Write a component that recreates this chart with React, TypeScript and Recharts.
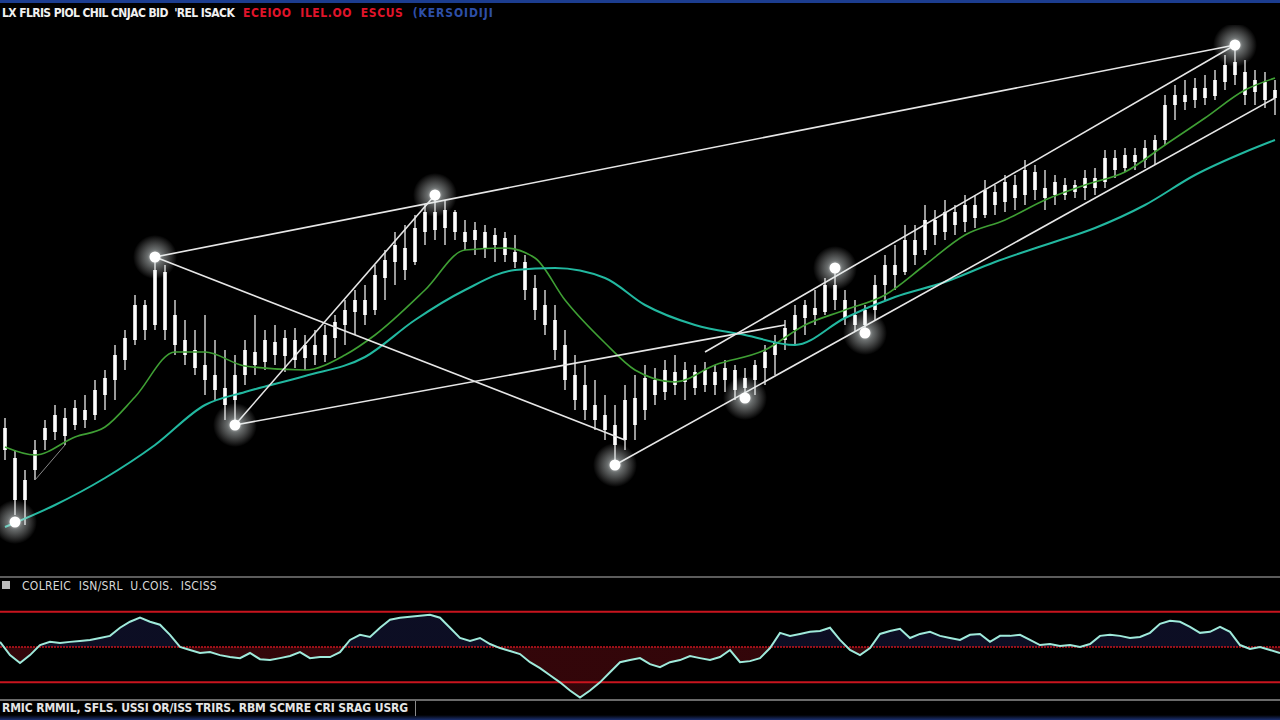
import React from "react";
import {
  ComposedChart,
  Bar,
  Line,
  Area,
  XAxis,
  YAxis,
  ReferenceLine,
  ReferenceDot,
} from "recharts";

// price candles, one every 10px
const highs = [
  157, 125, 105, 135, 155, 170, 167, 175, 180, 195,
  205, 230, 245, 280, 275, 318, 310, 275, 255, 245,
  260, 235, 225, 220, 235, 260, 245, 250, 245, 247,
  240, 245, 250, 260, 275, 285, 290, 310, 325, 343,
  350, 360, 370, 380, 375, 365, 355, 353, 350, 347,
  343, 340, 320, 300, 285, 270, 245, 220, 210, 195,
  180, 170, 190, 200, 210, 207, 215, 220, 213, 210,
  213, 210, 215, 210, 207, 215, 230, 240, 255, 270,
  275, 285, 297, 310, 285, 275, 270, 300, 320, 330,
  350, 350, 370, 365, 375, 370, 380, 380, 395, 390,
  400, 400, 415, 410, 405, 400, 397, 395, 405, 407,
  425, 425, 427, 427, 435, 440, 480, 490, 495, 497,
  500, 505, 520, 530, 515, 505, 503, 495,
];
const lows = [
  115, 60, 50, 95, 125, 135, 130, 145, 147, 155,
  165, 175, 205, 230, 235, 245, 235, 220, 210, 200,
  180, 175, 155, 150, 190, 200, 205, 210, 203, 207,
  205, 210, 213, 217, 230, 240, 250, 260, 275, 290,
  295, 310, 330, 335, 330, 335, 325, 320, 317, 313,
  313, 307, 275, 255, 240, 215, 185, 165, 155, 145,
  135, 110, 125, 135, 155, 170, 175, 180, 175, 180,
  183, 180, 183, 175, 175, 180, 190, 200, 225, 230,
  240, 250, 260, 265, 250, 243, 240, 255, 275, 285,
  300, 310, 320, 330, 335, 340, 343, 347, 357, 360,
  363, 365, 370, 375, 365, 370, 375, 377, 375, 380,
  387, 397, 403, 405, 407, 410, 430, 455, 465, 467,
  470, 475, 485, 490, 470, 470, 467, 460,
];
const opens = [
  125, 117, 75, 105, 135, 143, 157, 150, 165, 160,
  180, 195, 215, 235, 270, 250, 303, 260, 235, 225,
  210, 200, 187, 175, 200, 223, 213, 233, 219, 235,
  217, 230, 220, 237, 250, 263, 275, 265, 297, 313,
  327, 313, 343, 363, 347, 363, 343, 335, 343, 330,
  337, 323, 313, 287, 270, 255, 230, 200, 190, 170,
  160, 150, 135, 177, 165, 195, 183, 203, 193, 203,
  190, 203, 195, 205, 187, 195, 207, 220, 235, 245,
  257, 267, 263, 290, 275, 260, 250, 265, 290, 310,
  303, 335, 325, 355, 343, 363, 353, 370, 360, 383,
  373, 390, 380, 403, 387, 380, 390, 383, 387, 397,
  393, 417, 407, 420, 415, 425, 435, 470, 480, 475,
  487, 479, 493, 513, 503, 483, 493, 477,
];
const closes = [
  147, 75, 95, 125, 147, 160, 139, 167, 155, 185,
  197, 220, 237, 270, 245, 305, 245, 230, 220, 207,
  195, 185, 170, 200, 225, 210, 235, 220, 237, 215,
  230, 220, 240, 253, 265, 275, 260, 300, 315, 330,
  305, 347, 363, 345, 365, 343, 333, 345, 327, 340,
  320, 313, 285, 265, 250, 225, 195, 175, 165, 155,
  145, 130, 175, 150, 197, 180, 205, 190, 205, 187,
  205, 190, 207, 185, 197, 210, 223, 233, 247, 260,
  270, 260, 290, 275, 257, 250, 265, 290, 310, 300,
  335, 320, 355, 340, 363, 350, 370, 357, 385, 370,
  393, 377, 405, 385, 377, 393, 380, 390, 397, 387,
  417, 405, 420, 413, 427, 435, 470, 480, 473, 487,
  477, 495, 510, 500, 480, 495, 475, 485,
];

// moving averages, [candle index, value]
const fastMa = [
  [0, 128], [3, 120], [7, 138], [10, 148], [13, 178], [17, 223], [20, 223],
  [24, 209], [30, 205], [34, 220], [37, 240], [42, 285], [46, 325], [50, 327],
  [53, 317], [56, 275], [60, 232], [63, 205], [67, 193], [71, 210], [76, 225],
  [80, 250], [84, 265], [88, 280], [92, 310], [96, 340], [100, 355], [104, 375],
  [108, 390], [112, 403], [116, 430], [120, 457], [124, 485], [127, 497],
];
const slowMa = [
  [0, 48], [5, 70], [10, 97], [15, 130], [20, 170], [24, 183], [30, 199],
  [36, 218], [41, 255], [46, 285], [51, 305], [55, 307], [60, 297], [64, 270],
  [69, 250], [74, 240], [79, 230], [84, 257], [89, 278], [94, 293], [99, 313],
  [104, 330], [109, 347], [114, 370], [119, 400], [124, 423], [127, 435],
];

// swing points and the lines drawn between them
const pivots = [
  [1, 53], [15, 318], [23, 150], [43, 380], [61, 110], [74, 177], [83, 307],
  [86, 242], [123, 530],
];
const trendLines = [
  [15, 318, 123, 530],
  [15, 318, 62, 135],
  [23, 150, 43, 380],
  [23, 150, 78, 250],
  [70, 223, 123, 530],
  [61, 110, 127, 477],
];

// oscillator, one value every 10px
const osc = [
  52.9, 45.4, 40.9, 45.4, 51.1, 52.9, 52.3, 52.9, 53.4, 54.0,
  55.1, 56.3, 60.9, 64.3, 66.6, 64.3, 62.6, 56.9, 50.0, 48.3,
  46.6, 47.1, 45.4, 44.3, 43.7, 46.6, 43.1, 42.6, 43.7, 44.9,
  47.1, 43.7, 44.3, 44.3, 47.1, 54.0, 56.9, 55.7, 60.9, 65.4,
  66.6, 67.1, 67.7, 68.3, 66.6, 60.9, 55.1, 53.4, 55.1, 51.7,
  49.4, 47.7, 46.0, 41.4, 38.0, 34.0, 30.0, 25.4, 21.4, 25.4,
  30.0, 35.7, 41.4, 42.6, 43.7, 40.3, 38.6, 41.4, 42.6, 44.9,
  43.7, 42.6, 44.3, 48.3, 41.4, 42.0, 43.7, 49.4, 58.0, 56.3,
  57.4, 58.6, 59.1, 60.9, 54.0, 48.3, 45.4, 49.4, 57.4, 59.1,
  60.3, 55.1, 57.4, 58.6, 56.3, 55.1, 54.0, 56.9, 57.4, 52.9,
  56.3, 56.3, 56.9, 54.0, 51.1, 51.7, 50.6, 51.1, 50.0, 51.7,
  56.3, 56.9, 56.3, 55.1, 55.7, 58.0, 63.1, 64.9, 64.3, 61.4,
  58.0, 58.6, 61.4, 58.6, 51.1, 48.9, 50.0, 48.3, 46.6,
];
const oscLevels = [70, 50, 30];

const headerWhite = "LX FLRIS PIOL CHIL CNJAC BID  'REL ISACK";
const headerRed = "ECEIOO  ILEL.OO  ESCUS";
const headerBlue = "(KERSOIDIJI";
const oscTitle = "COLREIC  ISN/SRL  U.COIS.  ISCISS";
const footer = "RMIC RMMIL, SFLS. USSI OR/ISS TRIRS. RBM SCMRE CRI SRAG USRG";

const fastMap: Record<number, number> = {};
fastMa.forEach(([i, v]) => (fastMap[i] = v));
const slowMap: Record<number, number> = {};
slowMa.forEach(([i, v]) => (slowMap[i] = v));

const candles = highs.map((h, i) => ({
  i,
  high: h,
  low: lows[i],
  open: opens[i],
  close: closes[i],
  range: [lows[i], h],
  fast: fastMap[i],
  slow: slowMap[i],
}));

const oscData = osc.map((v, i) => ({ i, v }));

const Candle = (props: any) => {
  const { x, y, width, height, payload } = props;
  if (!payload) return null;
  const top = Math.min(y, y + height);
  const h = Math.abs(height);
  const ppu = h / Math.max(payload.high - payload.low, 0.001);
  const bTop = top + (payload.high - Math.max(payload.open, payload.close)) * ppu;
  const bBot = top + (payload.high - Math.min(payload.open, payload.close)) * ppu;
  const cx = x + width / 2;
  return (
    <g>
      <line x1={cx} x2={cx} y1={top} y2={top + h} stroke="#ededed" strokeWidth={1.3} />
      <rect x={cx - 1.8} y={bTop} width={3.6} height={Math.max(bBot - bTop, 1.5)} fill="#ffffff" />
    </g>
  );
};

const Glow = (props: any) => {
  const { cx, cy } = props;
  return (
    <g>
      <circle cx={cx} cy={cy} r={22} fill="url(#glowGrad)" />
      <circle cx={cx} cy={cy} r={5.5} fill="#ffffff" />
    </g>
  );
};

const txt: React.CSSProperties = {
  position: "absolute",
  fontFamily: "'DejaVu Sans Condensed', 'DejaVu Sans', sans-serif",
  whiteSpace: "pre",
  fontWeight: "bold",
};

export default function App() {
  return (
    <div
      style={{
        position: "absolute",
        left: 0,
        top: 0,
        width: 1280,
        height: 720,
        background: "#000",
        overflow: "hidden",
      }}
    >
      <svg width={0} height={0} style={{ position: "absolute" }}>
        <defs>
          <radialGradient id="glowGrad">
            <stop offset="0%" stopColor="#ffffff" stopOpacity={0.9} />
            <stop offset="35%" stopColor="#e8f0f0" stopOpacity={0.45} />
            <stop offset="100%" stopColor="#ffffff" stopOpacity={0} />
          </radialGradient>
          <linearGradient id="oscFill" gradientUnits="userSpaceOnUse" x1={0} y1={0} x2={0} y2={106}>
            <stop offset="0%" stopColor="#1a1d4a" stopOpacity={0.8} />
            <stop offset="50%" stopColor="#1a1d4a" stopOpacity={0.8} />
            <stop offset="50%" stopColor="#6a0c14" stopOpacity={0.8} />
            <stop offset="100%" stopColor="#6a0c14" stopOpacity={0.8} />
          </linearGradient>
        </defs>
      </svg>

      {/* top frame */}
      <div style={{ position: "absolute", left: 0, top: 0, width: 1280, height: 3, background: "#1c3d8f" }} />
      <div style={{ ...txt, left: 2, top: 6, fontSize: 12 }}>
        <span style={{ color: "#f0f0f0", letterSpacing: -0.6 }}>{headerWhite}</span>
        <span style={{ color: "#e0142a", letterSpacing: 0.6 }}>{"  " + headerRed}</span>
        <span style={{ color: "#2d4fa8", letterSpacing: 0.9 }}>{"  " + headerBlue}</span>
      </div>

      {/* price panel */}
      <div style={{ position: "absolute", left: 0, top: 25 }}>
        <ComposedChart
          width={1280}
          height={550}
          data={candles}
          margin={{ top: 0, right: 0, left: 0, bottom: 0 }}
        >
          <XAxis dataKey="i" hide />
          <YAxis domain={[0, 550]} hide />
          <Bar dataKey="range" barSize={4} shape={Candle} isAnimationActive={false} />
          <Line
            type="monotone"
            dataKey="fast"
            stroke="#3f9f34"
            strokeWidth={1.6}
            dot={false}
            connectNulls
            isAnimationActive={false}
          />
          <Line
            type="monotone"
            dataKey="slow"
            stroke="#22b8a0"
            strokeWidth={2}
            dot={false}
            connectNulls
            isAnimationActive={false}
          />
          <ReferenceLine
            segment={[{ x: 3, y: 95 }, { x: 6, y: 130 }]}
            stroke="#888"
            strokeWidth={1}
          />
          {trendLines.map(([x1, y1, x2, y2], k) => (
            <ReferenceLine
              key={"t" + k}
              segment={[{ x: x1, y: y1 }, { x: x2, y: y2 }]}
              stroke="#e6e6e6"
              strokeWidth={1.6}
              ifOverflow="visible"
            />
          ))}
          {pivots.map(([px, py], k) => (
            <ReferenceDot
              key={"p" + k}
              x={px}
              y={py}
              r={6}
              shape={Glow}
              ifOverflow="visible"
            />
          ))}
        </ComposedChart>
      </div>

      {/* oscillator panel */}
      <div style={{ position: "absolute", left: 0, top: 576, width: 1280, height: 2, background: "#5c5c5c" }} />
      <div style={{ position: "absolute", left: 2, top: 581, width: 8, height: 8, background: "#bbb" }} />
      <div style={{ ...txt, left: 22, top: 579, fontSize: 12, color: "#d8d8d8", fontWeight: "normal", letterSpacing: 0.3 }}>
        {oscTitle}
      </div>
      <div style={{ position: "absolute", left: 0, top: 594 }}>
        <ComposedChart
          width={1280}
          height={106}
          data={oscData}
          margin={{ top: 0, right: 0, left: 0, bottom: 0 }}
        >
          <XAxis dataKey="i" type="number" domain={[0, 128]} hide />
          <YAxis domain={[20, 80]} hide />
          <Area
            type="linear"
            dataKey="v"
            baseValue={50}
            stroke="none"
            fill="url(#oscFill)"
            isAnimationActive={false}
          />
          {oscLevels.map((lv) => (
            <ReferenceLine
              key={lv}
              y={lv}
              stroke="#c8141e"
              strokeWidth={lv === 50 ? 1.5 : 2}
              strokeDasharray={lv === 50 ? "2 1" : undefined}
            />
          ))}
          <Line
            type="linear"
            dataKey="v"
            stroke="#9feadb"
            strokeWidth={2}
            dot={false}
            isAnimationActive={false}
          />
        </ComposedChart>
      </div>

      {/* footer */}
      <div style={{ position: "absolute", left: 0, top: 699, width: 1280, height: 2, background: "#6a6a6a" }} />
      <div style={{ position: "absolute", left: 0, top: 715, width: 1280, height: 5, background: "linear-gradient(#000, #1b3070)" }} />
      <div style={{ ...txt, left: 2, top: 701, fontSize: 12, color: "#e4e4e4", letterSpacing: -0.1 }}>
        {footer}
      </div>
      <div style={{ position: "absolute", left: 415, top: 701, width: 1, height: 15, background: "#8a8a8a" }} />
    </div>
  );
}
